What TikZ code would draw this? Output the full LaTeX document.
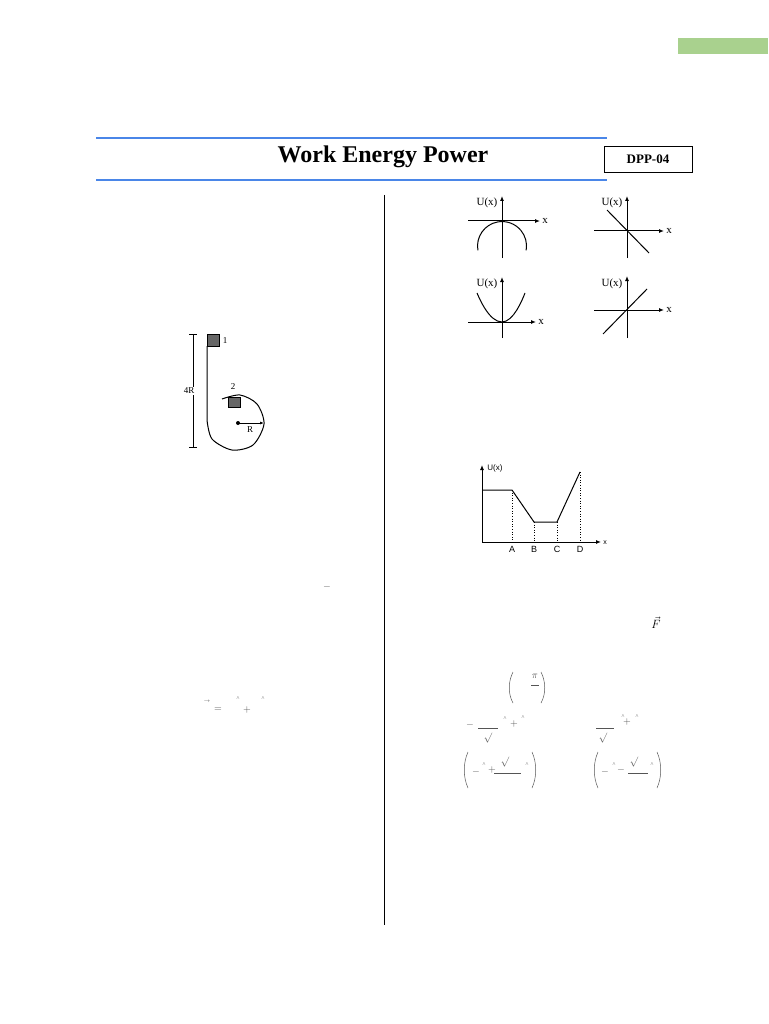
\documentclass[tikz,border=0pt]{standalone}
\usepackage{fontspec}
\setmainfont{Liberation Serif}
\newfontfamily\sansf{Liberation Sans}
\usetikzlibrary{patterns,arrows.meta}
\definecolor{bluel}{HTML}{4A86E8}
\definecolor{greenb}{HTML}{A9D18E}
\definecolor{fgray}{HTML}{555555}
\begin{document}
\begin{tikzpicture}[x=1pt,y=-1pt,
  ax/.style={line width=1pt,-{Latex[length=5pt,width=4pt]}},
  crv/.style={line width=1pt},
  lbl/.style={inner sep=0pt,font=\fontsize{11}{11}\selectfont},
  frag/.style={inner sep=0pt,text=fgray,font=\fontsize{10}{10}\selectfont},
  par/.style={fgray,line width=0.5pt},
  blk/.style={draw,line width=0.6pt,pattern=crosshatch,pattern color=black!80,fill=black!60}]
\useasboundingbox (0,0) rectangle (768,1024);
\fill[white] (0,0) rectangle (768,1024);
% header
\fill[greenb] (678,38) rectangle (768,54);
\draw[bluel,line width=1.3pt] (96,138) -- (607,138);
\draw[bluel,line width=1.3pt] (96,180) -- (607,180);
\node[inner sep=0pt,font=\fontsize{24}{24}\selectfont\bfseries] (title) at (383,157) {Work Energy Power};
\node[draw,line width=0.8pt,minimum width=88pt,minimum height=26pt,inner sep=0pt,font=\fontsize{13}{13}\selectfont\bfseries] (dpp) at (648,159) {DPP-04};
\draw[line width=0.8pt] (384,195) -- (384,925);
% loop figure
\draw[line width=0.8pt] (189,334) -- (197,334) (193,334) -- (193,447) (189,447) -- (197,447);
\node[lbl,font=\fontsize{9}{9}\selectfont,fill=white,inner sep=1pt] (fourR) at (189,391) {4R};
\draw[crv] (207,346) -- (207,420) plot[smooth] coordinates {(207,420) (212,439) (232,450) (253,445) (264,424) (257,404) (240,395) (222,399)};
\node[blk,minimum width=12pt,minimum height=12pt,inner sep=0pt] (b1) at (213,340) {};
\node[lbl,font=\fontsize{9}{9}\selectfont] (l1) at (225,341) {1};
\node[blk,minimum width=12pt,minimum height=10pt,inner sep=0pt] (b2) at (234,402) {};
\node[lbl,font=\fontsize{9}{9}\selectfont] (l2) at (233,387) {2};
\fill (238,423) circle (2pt);
\coordinate (c0) at (238,423); \coordinate (c1) at (264,423);
\draw[line width=0.8pt,-{Latex[length=4pt,width=3pt]}] (c0) -- (c1);
\node[lbl,font=\fontsize{9}{9}\selectfont] (lR) at (250,430) {R};
% graph 1
\draw[ax] (502,258) -- (502,196);
\draw[ax] (468,221) -- (540,221);
\node[lbl] at (545,221) {x};
\node[lbl] at (487,203) {U(x)};
\draw[crv] (477.9,250.3) arc[start angle=170,end angle=370,radius=24.5];
% graph 2
\draw[ax] (627,258) -- (627,196);
\draw[ax] (594,231) -- (664,231);
\node[lbl] at (669,231) {x};
\node[lbl] at (612,203) {U(x)};
\draw[crv] (607,210) -- (649,253);
% graph 3
\draw[ax] (502,338) -- (502,277);
\draw[ax] (468,322) -- (536,322);
\node[lbl] at (541,322) {x};
\node[lbl] at (487,284) {U(x)};
\draw[crv] (477,293) parabola bend (502,322) (525,293);
% graph 4
\draw[ax] (627,338) -- (627,276);
\draw[ax] (594,310) -- (664,310);
\node[lbl] at (669,310) {x};
\node[lbl] at (612,284) {U(x)};
\draw[crv] (603,334) -- (647,289);
% graph ABCD
\draw[ax] (482,542) -- (482,465);
\draw[ax] (482,542) -- (601,542);
\node[lbl,font=\sansf\fontsize{7}{7}\selectfont] at (605,543) {x};
\node[lbl,font=\sansf\fontsize{8}{8}\selectfont] at (495,468) {U(x)};
\draw[crv] (482,490) -- (512,490) -- (534,522) -- (557,522) -- (580,472);
\draw[dotted,line width=0.6pt] (512,490) -- (512,542) (534,522) -- (534,542) (557,522) -- (557,542) (580,472) -- (580,542);
\foreach \x/\t in {512/A,534/B,557/C,580/D} \node[lbl,font=\sansf\fontsize{9}{9}\selectfont] at (\x,549) {\t};
% left fragments
\node[frag] at (327,587) {$-$};
\node[frag,font=\fontsize{5}{5}\selectfont] at (207,702) {$\rightarrow$};
\node[frag] at (218,710) {$=$};
\node[frag,font=\fontsize{6}{6}\selectfont] at (238,699) {\^{}};
\node[frag] at (247,710) {$+$};
\node[frag,font=\fontsize{6}{6}\selectfont] at (263,699) {\^{}};
% F vector
\node[lbl,font=\fontsize{12}{12}\selectfont] at (656,623) {$\vec{F}$};
% right fragments
\draw[par] (513,672) .. controls (508,682) and (508,694) .. (513,703);
\draw[par] (541,672) .. controls (546,682) and (546,694) .. (541,703);
\node[frag] at (535,676) {$\pi$};
\draw[par] (531,685) -- (539,685);
\node[frag] at (470,725) {$-$};
\draw[par] (478,728) -- (498,728);
\node[frag] at (488,738) {$\surd$};
\node[frag,font=\fontsize{6}{6}\selectfont] at (505,719) {\^{}};
\node[frag] at (514,724) {$+$};
\node[frag,font=\fontsize{6}{6}\selectfont] at (523,718) {\^{}};
\draw[par] (596,728) -- (614,728);
\node[frag] at (603,738) {$\surd$};
\node[frag,font=\fontsize{6}{6}\selectfont] at (623,717) {\^{}};
\node[frag] at (627,722) {$+$};
\node[frag,font=\fontsize{6}{6}\selectfont] at (637,717) {\^{}};
\draw[par] (468,752) .. controls (463,763) and (463,777) .. (468,788);
\draw[par] (532,752) .. controls (537,763) and (537,777) .. (532,788);
\node[frag] at (476,772) {$-$};
\node[frag,font=\fontsize{6}{6}\selectfont] at (484,765) {\^{}};
\node[frag] at (492,770) {$+$};
\node[frag] at (505,762) {$\surd$};
\draw[par] (494,773) -- (521,773);
\node[frag,font=\fontsize{6}{6}\selectfont] at (527,765) {\^{}};
\draw[par] (598,752) .. controls (593,763) and (593,777) .. (598,788);
\draw[par] (657,752) .. controls (662,763) and (662,777) .. (657,788);
\node[frag] at (605,772) {$-$};
\node[frag,font=\fontsize{6}{6}\selectfont] at (614,765) {\^{}};
\node[frag] at (621,770) {$-$};
\node[frag] at (634,762) {$\surd$};
\draw[par] (628,773) -- (648,773);
\node[frag,font=\fontsize{6}{6}\selectfont] at (652,765) {\^{}};
\end{tikzpicture}
\end{document}
